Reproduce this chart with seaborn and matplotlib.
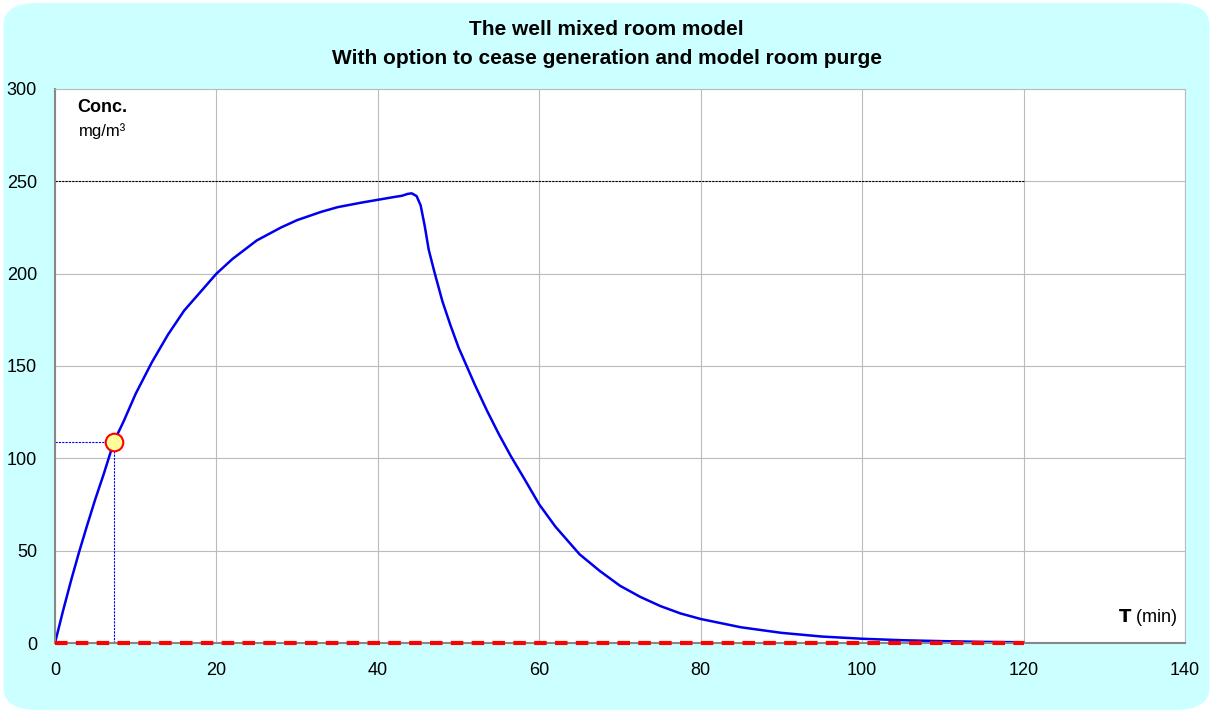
import numpy as np
import matplotlib
matplotlib.use("Agg")
import matplotlib.pyplot as plt
import seaborn as sns
from matplotlib.patches import FancyBboxPatch
from matplotlib.ticker import MultipleLocator

# data
t_min = [0, 1, 2, 3, 4, 5, 6, 7.3, 8.5, 10, 12, 14, 16, 18, 20, 22, 25, 28, 30, 33, 35, 38,
         40, 42, 43, 43.7, 44.2, 44.8, 45.3, 45.8, 46.3, 47, 48, 49, 50, 51, 52, 53.5, 55,
         56.5, 58, 60, 62, 65, 67.5, 70, 72.5, 75, 77.5, 80, 85, 90, 95, 100, 105, 110, 115, 120]
conc = [0, 17.5, 34, 49.5, 64, 78, 91, 109, 120, 135, 152, 167, 180, 190, 200, 208, 218, 225,
        229, 233.5, 236, 238.5, 240, 241.5, 242.2, 243.2, 243.5, 242, 237, 226, 213, 201, 185,
        172, 160, 150, 140, 126, 113, 101, 90, 75, 63, 48, 39, 31, 25, 20, 16, 13, 8.5, 5.5,
        3.5, 2.3, 1.5, 1.0, 0.6, 0.4]
limit_value = 250
point_t, point_c = 7.3, 109
zero_t = [0, 120]
zero_c = [0, 0]

sns.set_style("white")
plt.rcParams['font.family'] = ['Liberation Sans', 'DejaVu Sans']

fig = plt.figure(figsize=(12.13, 7.13), dpi=100)
fig.patch.set_facecolor("white")
bg = FancyBboxPatch((0.003, 0.004), 0.994, 0.992, boxstyle="round,pad=0,rounding_size=0.03",
                    transform=fig.transFigure, facecolor="#ccffff", edgecolor="none", zorder=-10)
fig.patches.append(bg)

ax = fig.add_axes([55 / 1213, 1 - 643 / 713, 1130 / 1213, 554 / 713])
ax.set_facecolor("white")

sns.lineplot(x=t_min, y=conc, ax=ax, color="#0000ee", lw=1.8, sort=False)
ax.plot(zero_t, zero_c, color="red", lw=3, ls=(0, (3, 2)), zorder=5, clip_on=False)
ax.plot([0, 120], [limit_value, limit_value], color="black", lw=0.8, ls=(0, (2, 1)))
ax.plot([0, point_t], [point_c, point_c], color="blue", lw=0.8, ls=(0, (2, 1)))
ax.plot([point_t, point_t], [0, point_c], color="blue", lw=0.8, ls=(0, (2, 1)))
ax.scatter([point_t], [point_c], s=160, color="#ffff99", edgecolor="red", linewidth=1.5, zorder=6)

ax.set_xlim(0, 140)
ax.set_ylim(0, 300)
ax.xaxis.set_major_locator(MultipleLocator(20))
ax.yaxis.set_major_locator(MultipleLocator(50))
ax.xaxis.set_minor_locator(MultipleLocator(2))
ax.yaxis.set_minor_locator(MultipleLocator(10))
ax.grid(True, which="major", color="#bbbbbb", lw=0.8)
ax.tick_params(which="major", labelsize=13, length=0, pad=14, labelcolor="black")
ax.tick_params(axis="y", which="major", pad=13)
ax.tick_params(which="minor", length=4, color="#888888", direction="in")
for s in ax.spines.values():
    s.set_color("#bbbbbb")
ax.spines["left"].set_color("#888888")
ax.spines["left"].set_linewidth(1.5)
ax.spines["bottom"].set_color("#888888")
ax.spines["bottom"].set_linewidth(1.5)

ax.text(2.8, 290, "Conc.", fontsize=13, fontweight="bold", va="center", color="black")
ax.text(3.0, 277, "mg/m³", fontsize=12, va="center", color="black")
ax.text(139, 14, r"$\bf{T}$ (min)", fontsize=13, ha="right", va="center", color="black")

fig.text(0.5, 0.958, "The well mixed room model", ha="center", va="center", fontsize=15,
         fontweight="bold", color="black")
fig.text(0.5, 0.918, "With option to cease generation and model room purge", ha="center",
         va="center", fontsize=15, fontweight="bold", color="black")

fig.savefig("out.png", dpi=100, facecolor=fig.get_facecolor())
